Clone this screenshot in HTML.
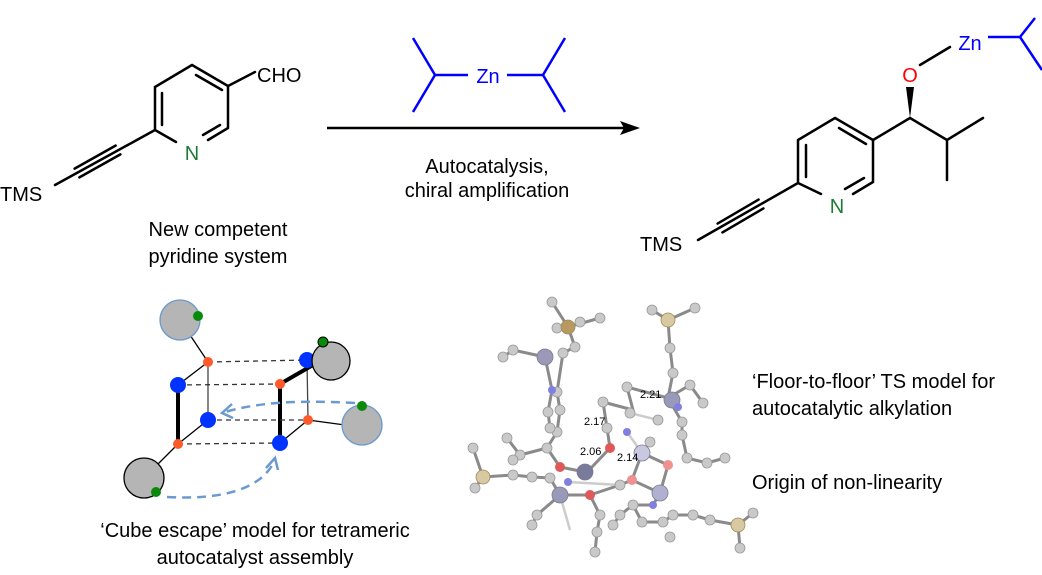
<!DOCTYPE html>
<html><head><meta charset="utf-8"><style>
body{margin:0;background:#fff}
svg{display:block}
text{font-family:"Liberation Sans",Arial,sans-serif}
</style></head><body>
<svg width="1042" height="575" viewBox="0 0 1042 575" xmlns="http://www.w3.org/2000/svg">
<!-- Left molecule -->
<g stroke="#000" stroke-width="2.5" fill="none" stroke-linecap="round">
<path d="M192,65 L228,86 L228,128 L208,140 M176,142 L155,130 L155,87 L192,65"/>
<path d="M196,75 L222,90 M162,93 L162,125 M203,135 L220,125"/>
<path d="M228,86 L255,72"/>
<path d="M155,130 L55,185 M79.4,177.4 L120.4,154.4 M74.6,168.6 L115.6,145.6"/>
</g>
<text x="257" y="82" font-size="20">CHO</text>
<text x="192" y="160" font-size="20" fill="#1f7a35" text-anchor="middle">N</text>
<text x="0" y="201" font-size="20">TMS</text>
<text x="218" y="236" font-size="20" text-anchor="middle">New competent</text>
<text x="218" y="263" font-size="20" text-anchor="middle">pyridine system</text>

<!-- reagent -->
<g stroke="#0000ff" stroke-width="2.5" fill="none">
<path d="M413,38 L435,75 L413,112 M435,75 L468,75 M507,75 L543,75 M565,38 L543,75 L565,112"/>
</g>
<text x="488" y="83" font-size="20" fill="#0000ff" text-anchor="middle">Zn</text>
<line x1="327" y1="128" x2="628" y2="128" stroke="#000" stroke-width="2.5"/>
<path d="M640,128 L620,121 L624,128 L620,135 Z" fill="#000"/>
<text x="487" y="173" font-size="20" text-anchor="middle">Autocatalysis,</text>
<text x="487" y="197" font-size="20" text-anchor="middle">chiral amplification</text>

<!-- product -->
<g stroke="#000" stroke-width="2.5" fill="none" stroke-linecap="round">
<path d="M835,118 L873,140 L873,182 L853,194 M821,194 L798,183 L798,140 L835,118"/>
<path d="M839,128 L866,144 M806,145 L806,177 M845,189 L864,178"/>
<path d="M873,140 L910,118 L947,140 L983,118 M947,140 L947,180"/>
<path d="M798,183 L698,240 M722.4,232.4 L763.4,208.4 M717.6,223.6 L758.6,199.6"/>
<path d="M920,65 L950,47"/>
</g>
<path d="M910,118 L906,87 L914,87 Z" fill="#000"/>
<text x="910" y="82" font-size="20" fill="#ff0000" text-anchor="middle">O</text>
<text x="970" y="50" font-size="20" fill="#0000ff" text-anchor="middle">Zn</text>
<g stroke="#0000ff" stroke-width="2.5" fill="none"><path d="M988,37 L1020,37 L1035,18 M1020,37 L1042,70"/></g>
<text x="640" y="251" font-size="20">TMS</text>
<text x="837" y="213" font-size="20" fill="#1f7a35" text-anchor="middle">N</text>

<!-- cube -->
<g stroke="#000" stroke-width="1.3" fill="none">
<path d="M180,320 L208,362 M208,362 L178,385 M178,444 L208,420 M178,444 L144,478 M308,420 L280,443 M308,420 L345,425"/>
<path d="M208,362 L208,420 M307,360 L308,420" stroke="#444"/>
<path d="M178,385 L178,444 M280,384 L280,443 M280,384 L313,365" stroke-width="4"/>
<path d="M208,362 L307,360 M178,385 L280,384 M208,420 L308,420 M178,444 L280,443" stroke-dasharray="5,4" stroke="#333"/>
</g>
<circle cx="180" cy="320" r="20" fill="#b5b5b5" stroke="#6a9ad0" stroke-width="1.3"/>
<circle cx="198" cy="316" r="5" fill="#0a8a0a"/>
<circle cx="307" cy="360" r="8" fill="#0033ff"/>
<circle cx="331" cy="361" r="19" fill="#b5b5b5" stroke="#000" stroke-width="1.3"/>
<circle cx="323" cy="342" r="5" fill="#0a8a0a" stroke="#000"/>
<circle cx="362" cy="425" r="20" fill="#b5b5b5" stroke="#6a9ad0" stroke-width="1.3"/>
<circle cx="362" cy="406" r="5" fill="#0a8a0a"/>
<circle cx="144" cy="478" r="20" fill="#b5b5b5" stroke="#000" stroke-width="1.3"/>
<circle cx="156" cy="492" r="5" fill="#0a8a0a"/>
<g fill="#ff5a2a"><circle cx="208" cy="362" r="5"/><circle cx="280" cy="384" r="5"/><circle cx="308" cy="420" r="5"/><circle cx="178" cy="444" r="5"/></g>
<g fill="#0033ff"><circle cx="178" cy="385" r="8"/><circle cx="208" cy="420" r="8"/><circle cx="280" cy="443" r="8"/></g>
<g stroke="#6a9ad0" stroke-width="2.5" fill="none" stroke-dasharray="9,6">
<path d="M355,403 C300,400 260,402 225,412"/>
<path d="M167,497 C220,500 260,490 274,462"/>
</g>
<g stroke="#6a9ad0" stroke-width="2.5" fill="none">
<path d="M232,404 L222,413 L233,418"/>
<path d="M266,468 L275,458 L278,470"/>
</g>
<text x="255" y="537" font-size="20" text-anchor="middle">‘Cube escape’ model for tetrameric</text>
<text x="255" y="564" font-size="20" text-anchor="middle">autocatalyst assembly</text>

<!-- molecular model -->
<g stroke="#8a8a8a" stroke-width="3" fill="none" stroke-linecap="round">
<path d="M552,302 L568,327 L600,318 M568,327 L557,328 M568,327 L575,347 L563,353 L557,392 L560,410 L557,432 L547,448 L560,467 L585,472 L592,467 L610,448 L607,428 L603,402"/>
<path d="M545,357 L513,350 L503,357 M545,357 L552,390 L548,412 L550,428 L557,432"/>
<path d="M547,448 L520,455 L507,438 M520,455 L513,460"/>
<path d="M483,477 L513,475 L532,477 L550,478 L560,495 L590,495 L600,515 L597,532 L595,552 M483,477 L473,448 M483,477 L475,488 M560,495 L537,515 L532,525"/>
<path d="M668,320 L652,310 M668,320 L695,308 M668,320 L670,348 L673,373 L668,398 L682,422 L682,435 L687,458 L707,463 L725,458 M668,398 L690,385 L703,403"/>
<path d="M668,398 L627,387 L633,410 L603,402 M642,453 L668,465 L660,493 L632,480 L620,485 L590,495 M642,453 L632,480 M660,493 L653,505 L633,505 L642,522 L663,522 L673,515 L693,515 L710,520 L738,525 L753,513 M738,525 L740,548 M613,525 L620,515 L633,505"/>
</g>
<g stroke="#ccc" stroke-width="2.5" fill="none"><path d="M568,482 L620,485 M627,432 L642,453 M630,413 L658,420 M650,442 L642,453 M560,495 L570,530"/></g>
<g fill="#c9c9c9" stroke="#999" stroke-width="0.8">
<circle cx="552" cy="302" r="5"/><circle cx="600" cy="318" r="5"/><circle cx="557" cy="328" r="5"/><circle cx="580" cy="322" r="5"/>
<circle cx="575" cy="347" r="5"/><circle cx="563" cy="353" r="5"/><circle cx="557" cy="392" r="5"/><circle cx="560" cy="410" r="5"/>
<circle cx="557" cy="432" r="5"/><circle cx="550" cy="428" r="5"/><circle cx="548" cy="412" r="5"/><circle cx="547" cy="448" r="5"/>
<circle cx="520" cy="455" r="5"/><circle cx="507" cy="438" r="5"/><circle cx="513" cy="460" r="5"/><circle cx="513" cy="350" r="5"/><circle cx="503" cy="357" r="5"/>
<circle cx="473" cy="448" r="5"/><circle cx="475" cy="488" r="5"/><circle cx="513" cy="475" r="5"/><circle cx="532" cy="477" r="5"/><circle cx="550" cy="478" r="5"/>
<circle cx="600" cy="515" r="5"/><circle cx="597" cy="532" r="5"/><circle cx="595" cy="552" r="5"/><circle cx="537" cy="515" r="5"/><circle cx="532" cy="525" r="5"/>
<circle cx="607" cy="428" r="5"/><circle cx="603" cy="402" r="5"/><circle cx="630" cy="413" r="5"/><circle cx="658" cy="420" r="5"/><circle cx="650" cy="442" r="5"/><circle cx="620" cy="485" r="5"/>
<circle cx="627" cy="387" r="5"/><circle cx="652" cy="310" r="5"/><circle cx="695" cy="308" r="5"/><circle cx="670" cy="348" r="5"/><circle cx="673" cy="373" r="5"/><circle cx="690" cy="385" r="5"/><circle cx="703" cy="403" r="5"/>
<circle cx="682" cy="422" r="5"/><circle cx="682" cy="435" r="5"/><circle cx="687" cy="458" r="5"/><circle cx="707" cy="463" r="5"/><circle cx="725" cy="458" r="5"/>
<circle cx="633" cy="505" r="5"/><circle cx="642" cy="522" r="5"/><circle cx="663" cy="522" r="5"/><circle cx="673" cy="515" r="5"/><circle cx="693" cy="515" r="5"/><circle cx="710" cy="520" r="5"/>
<circle cx="753" cy="513" r="5"/><circle cx="740" cy="548" r="5"/><circle cx="670" cy="537" r="5"/><circle cx="613" cy="525" r="5"/><circle cx="620" cy="515" r="5"/>
</g>
<g fill="#d9c9a0" stroke="#a08a60" stroke-width="0.8"><circle cx="568" cy="327" r="7" fill="#b89a60"/><circle cx="668" cy="320" r="7"/><circle cx="483" cy="477" r="7"/><circle cx="738" cy="525" r="7"/></g>
<g fill="#9a9ab8" stroke="#7a7a98" stroke-width="0.8"><circle cx="545" cy="357" r="8"/><circle cx="585" cy="472" r="8" fill="#7a7a9a"/><circle cx="560" cy="495" r="8"/><circle cx="672" cy="400" r="8"/><circle cx="642" cy="453" r="8" fill="#c8c8e0"/><circle cx="660" cy="493" r="8" fill="#b0b0d0"/></g>
<g fill="#8080e0"><circle cx="552" cy="390" r="4"/><circle cx="568" cy="482" r="4"/><circle cx="678" cy="407" r="4"/><circle cx="627" cy="432" r="4"/><circle cx="653" cy="505" r="4"/></g>
<g fill="#e05858"><circle cx="610" cy="448" r="5"/><circle cx="560" cy="467" r="5"/><circle cx="590" cy="495" r="5"/><circle cx="632" cy="480" r="5" fill="#f09090"/><circle cx="668" cy="465" r="5" fill="#f09090"/></g>
<g font-size="11" fill="#000">
<text x="640" y="398">2.21</text><text x="584" y="425">2.17</text><text x="580" y="455">2.06</text><text x="617" y="461">2.14</text>
</g>
<text x="752" y="388" font-size="20">‘Floor-to-floor’ TS model for</text>
<text x="752" y="415" font-size="20">autocatalytic alkylation</text>
<text x="752" y="489" font-size="20">Origin of non-linearity</text>
</svg>
</body></html>
